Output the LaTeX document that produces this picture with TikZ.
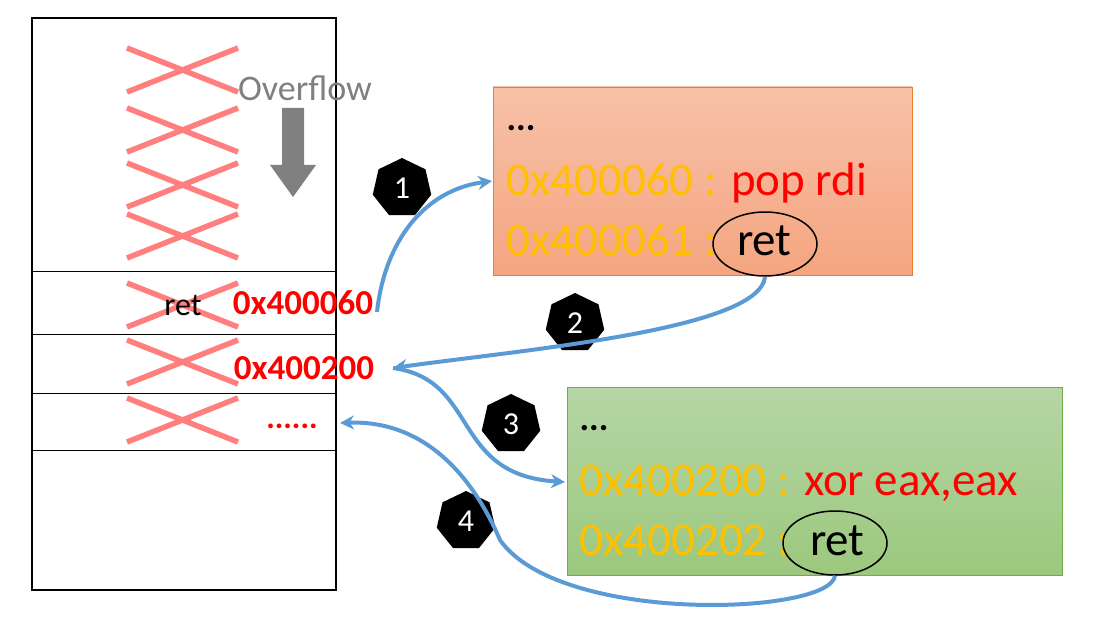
\documentclass[tikz,border=0pt]{standalone}
\usepackage{fontspec}
\setmainfont{Carlito}
\usetikzlibrary{shapes.geometric,arrows.meta}
\definecolor{xred}{HTML}{FF7F7F}
\definecolor{flow}{HTML}{5B9BD5}
\definecolor{gold}{HTML}{FFC000}
\begin{document}
\begin{tikzpicture}[x=1pt,y=-1pt,
  xx/.style={xred,line width=5.5pt},
  badge/.style={regular polygon,regular polygon sides=7,fill=black,text=white,inner sep=0pt,minimum size=60pt,font=\fontsize{32}{32}\selectfont},
  flowarr/.style={flow,line width=4pt,-{Stealth[length=14pt,width=14pt]}},
  code/.style={anchor=west,font=\fontsize{47}{47}\selectfont},
  hole/.style={ellipse,draw=black,line width=1.5pt,minimum width=104pt,minimum height=64pt}]
\useasboundingbox (0,0) rectangle (1099,631);
% stack
\draw[line width=1.2pt] (32,18) rectangle (336,590);
\foreach \y in {271,334,393,450} \draw[line width=1pt] (32,\y) -- (336,\y);
\foreach \y in {70,130,185,236,305,362,420}
  \draw[xx] (127,\y-22) -- (238,\y+22) (127,\y+22) -- (238,\y-22);
\node[gray,font=\fontsize{36}{36}\selectfont] (ov) at (305,88) {Overflow};
\fill[gray] (282,108) -- (304,108) -- (304,165) -- (316,165) -- (293,197) -- (270,165) -- (282,165) -- cycle;
\node[font=\fontsize{32}{32}\selectfont] (ret) at (183,305) {ret};
\node[red,font=\bfseries\fontsize{35}{35}\selectfont] (a1) at (303,303) {0x400060};
\node[red,font=\bfseries\fontsize{35}{35}\selectfont] (a2) at (304,368) {0x400200};
\node[red,font=\bfseries\fontsize{32}{32}\selectfont] (a3) at (292,426) {......};
\coordinate (s1) at (377,312);
\coordinate (s2) at (393,368);
\coordinate (s3) at (340,423);
% orange box
\shade[top color={rgb,255:red,247;green,193;blue,169},bottom color={rgb,255:red,245;green,165;blue,128}] (493,87) rectangle (912,275);
\draw[color={rgb,255:red,237;green,125;blue,49}] (493,87) rectangle (912,275);
\node[code,font=\bfseries\fontsize{36}{36}\selectfont] (o0) at (503,128) {...};
\node[code] (o1) at (503,183) {\textcolor{gold}{0x400060 :} \textcolor{red}{pop rdi}};
\node[code] (o2) at (503,240) {\textcolor{gold}{0x400061 :}\hspace{6pt} ret};
\node[hole] (e1) at (765,244) {};
\coordinate (g1) at (492,181);
% green box
\shade[top color={rgb,255:red,181;green,214;blue,165},bottom color={rgb,255:red,156;green,200;blue,126}] (567,387) rectangle (1062,575);
\draw[color={rgb,255:red,112;green,173;blue,71}] (567,387) rectangle (1062,575);
\node[code,font=\bfseries\fontsize{36}{36}\selectfont] (p0) at (576,428) {...};
\node[code] (p1) at (576,483) {\textcolor{gold}{0x400200 :} \textcolor{red}{xor eax,eax}};
\node[code] (p2) at (576,540) {\textcolor{gold}{0x400202 :}\hspace{6pt} ret};
\node[hole] (e2) at (835,543) {};
\coordinate (g2) at (565,482);
% steps
\node[badge] (n1) at (402,188) {1};
\node[badge] (n2) at (575,323) {2};
\node[badge] (n3) at (511,424) {3};
\node[badge] (n4) at (466,521) {4};
% flows
\draw[flowarr] (s1) .. controls (385,240) and (425,190) .. (g1);
\draw[flowarr] (e1.south) .. controls (760,330) and (520,350) .. (s2);
\draw[flowarr] (s2) .. controls (480,380) and (450,475) .. (g2);
\draw[flowarr] (e2.south) .. controls (830,615) and (560,625) .. (500,540) .. controls (470,470) and (420,420) .. (s3);
\end{tikzpicture}
\end{document}
